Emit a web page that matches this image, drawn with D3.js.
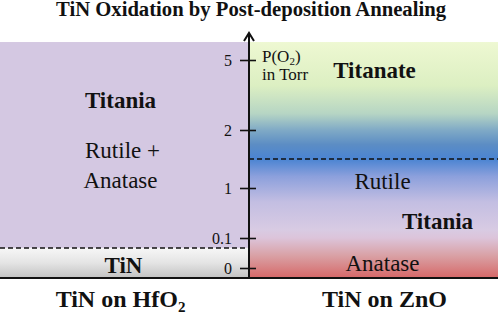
<!DOCTYPE html>
<html lang="en">
<head>
<meta charset="UTF-8">
<script src="https://d3js.org/d3.v7.min.js"></script>
<title>TiN oxidation</title>
<style>
  body { margin: 0; background: #fff; }
</style>
</head>
<body>
<script>
// substrates (columns) and pressure axis
var substrates = ["TiN on HfO2", "TiN on ZnO"];
var pressureTicks = [0, 0.1, 1, 2, 5];
var tickLabels = ["0", "0.1", "1", "2", "5"];
var pressureMin = -0.033, pressureMax = 5.77;

// phase boundaries (Torr)
var hfo2Boundary = 0.067;   // TiN -> Titania
var znoBoundary = 1.5;      // Titania -> Titanate

// colour ramp along pressure for the ZnO column
var znoStopPressure = [5.77, 3.9, 2.7, 2, 1.75, 1.5, 1.2, 0.75, 0.25, 0.1, 0.04, -0.033];
var znoStopColor = ["#eef8d2", "#dcefc2", "#b6d5c4", "#80aac6", "#5c8dc4", "#4a84d2",
                    "#8ca0dc", "#c3bee2", "#d8cbe3", "#dcc4da", "#d9a0a4", "#d66868"];

var width = 500, height = 315;
var serif = "Liberation Serif";

var svg = d3.select("body").append("svg")
  .attr("width", width).attr("height", height);

var x = d3.scaleBand().domain(substrates).range([0, 498]).padding(0);
var y = d3.scaleLinear().domain(pressureTicks).range([268, 238, 188, 130, 60]);

var yTop = y(pressureMax), yBot = y(pressureMin);
var axisX = x(substrates[1]);

var defs = svg.append("defs");
var zg = defs.append("linearGradient").attr("id", "zno")
  .attr("gradientUnits", "userSpaceOnUse")
  .attr("x1", 0).attr("x2", 0).attr("y1", yTop).attr("y2", yBot);
zg.selectAll("stop").data(znoStopPressure).enter().append("stop")
  .attr("offset", function (d) { return (y(d) - yTop) / (yBot - yTop); })
  .attr("stop-color", function (d, i) { return znoStopColor[i]; });

var tg = defs.append("linearGradient").attr("id", "tin")
  .attr("x1", 0).attr("x2", 0).attr("y1", 0).attr("y2", 1);
tg.append("stop").attr("offset", 0).attr("stop-color", "#f7f7f7");
tg.append("stop").attr("offset", 0.5).attr("stop-color", "#e4e4e4");
tg.append("stop").attr("offset", 1).attr("stop-color", "#c2c2c2");

// HfO2 column
var hx = x(substrates[0]);
svg.append("rect")
  .attr("x", hx).attr("width", x.bandwidth() - 1)
  .attr("y", yTop).attr("height", y(hfo2Boundary) - yTop)
  .attr("fill", "#d4c8e2");
svg.append("rect")
  .attr("x", hx).attr("width", x.bandwidth() - 1)
  .attr("y", y(hfo2Boundary)).attr("height", yBot - y(hfo2Boundary))
  .attr("fill", "url(#tin)");
svg.append("line")
  .attr("x1", hx).attr("x2", hx + x.bandwidth() - 1)
  .attr("y1", y(hfo2Boundary)).attr("y2", y(hfo2Boundary))
  .attr("stroke", "#111").attr("stroke-width", 1.5).attr("stroke-dasharray", "5,3");

// ZnO column
svg.append("rect")
  .attr("x", axisX).attr("width", x.bandwidth())
  .attr("y", yTop).attr("height", yBot - yTop)
  .attr("fill", "url(#zno)");
svg.append("line")
  .attr("x1", axisX).attr("x2", axisX + x.bandwidth())
  .attr("y1", y(znoBoundary)).attr("y2", y(znoBoundary))
  .attr("stroke", "#111").attr("stroke-width", 1.5).attr("stroke-dasharray", "5,3");

// baseline
svg.append("line")
  .attr("x1", 0).attr("x2", 498).attr("y1", yBot).attr("y2", yBot)
  .attr("stroke", "#111").attr("stroke-width", 2);

// pressure axis with arrow
var axis = d3.axisLeft(y).tickValues(pressureTicks)
  .tickFormat(function (d, i) { return tickLabels[i]; })
  .tickSize(0).tickPadding(17);
var ag = svg.append("g").attr("transform", "translate(" + axisX + ",0)").call(axis);
ag.select(".domain").remove();
ag.selectAll(".tick text").attr("fill", "#111")
  .style("font-family", serif).style("font-size", "16px");
ag.selectAll(".tick").append("line")
  .attr("x1", -9).attr("x2", 7).attr("stroke", "#111").attr("stroke-width", 1.6);
ag.append("line").attr("x1", 0).attr("x2", 0).attr("y1", yBot).attr("y2", 33)
  .attr("stroke", "#111").attr("stroke-width", 2);
ag.append("path").attr("d", "M-5,41L0,33L5,41")
  .attr("fill", "none").attr("stroke", "#111").attr("stroke-width", 2);

var po = svg.append("text").attr("x", axisX + 13).attr("y", 62)
  .style("font-family", serif).style("font-size", "17px").attr("fill", "#111");
po.append("tspan").text("P(O");
po.append("tspan").attr("dy", 3).style("font-size", "11px").text("2");
po.append("tspan").attr("dy", -3).text(")");
svg.append("text").attr("x", axisX + 13).attr("y", 80)
  .style("font-family", serif).style("font-size", "17px").attr("fill", "#111").text("in Torr");

// title
svg.append("text").attr("x", 251).attr("y", 16).attr("text-anchor", "middle")
  .style("font-family", serif).style("font-size", "20px").style("font-weight", "bold")
  .attr("fill", "#111").attr("textLength", 390).attr("lengthAdjust", "spacingAndGlyphs")
  .text("TiN Oxidation by Post-deposition Annealing");

// phase labels
function label(tx, ty, s, bold) {
  return svg.append("text").attr("x", tx).attr("y", ty).attr("text-anchor", "middle")
    .style("font-family", serif).style("font-size", "23px")
    .style("font-weight", bold ? "bold" : "normal")
    .attr("fill", "#111").text(s);
}
var hc = hx + x.bandwidth() / 2, zc = axisX + x.bandwidth() / 2;
label(hc - 4, 108, "Titania", true);
label(hc - 2, 158, "Rutile +", false);
label(hc - 4, 188, "Anatase", false);
label(hc - 1, 273, "TiN", true);

label(zc + 1, 78, "Titanate", true);
label(zc + 9, 189, "Rutile", false);
label(zc + 64, 229, "Titania", true);
label(zc + 9, 271, "Anatase", false);

// column names
var names = svg.selectAll("text.sub").data(substrates).enter().append("text")
  .attr("class", "sub")
  .attr("x", function (d) { return x(d) + x.bandwidth() / 2 + (d === substrates[0] ? -4 : 11); })
  .attr("y", 307).attr("text-anchor", "middle")
  .style("font-family", serif).style("font-size", "24px").style("font-weight", "bold")
  .attr("fill", "#111");
names.each(function (d) {
  var t = d3.select(this);
  var m = d.match(/^(.*?)(\d)$/);
  if (m) {
    t.append("tspan").text(m[1]);
    t.append("tspan").attr("dy", 5).style("font-size", "15px").text(m[2]);
  } else {
    t.text(d);
  }
});
</script>
</body>
</html>
